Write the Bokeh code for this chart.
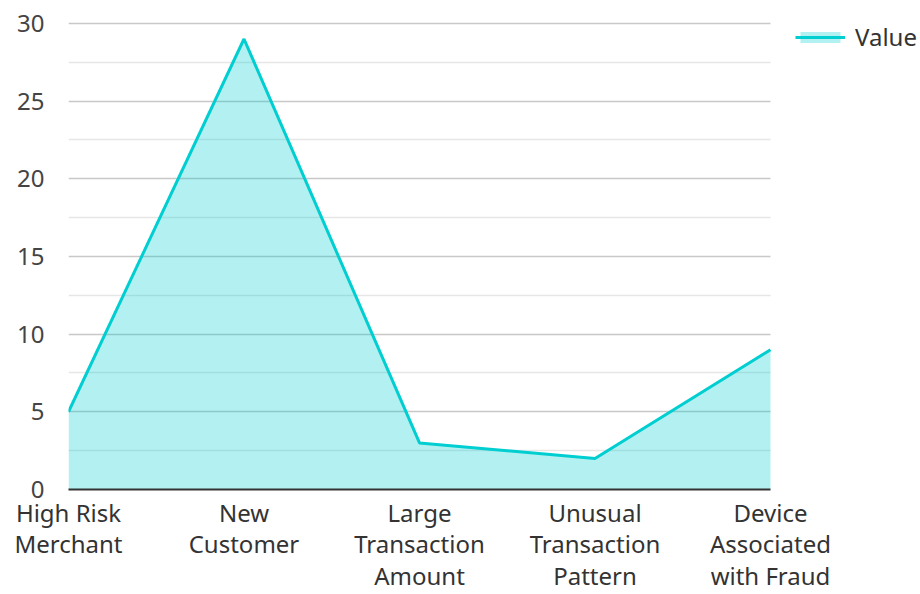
from bokeh.plotting import figure
from bokeh.models import Range1d, FixedTicker, Legend, LegendItem
from bokeh.embed import file_html
from bokeh.resources import INLINE

categories = ["High Risk\nMerchant", "New\nCustomer", "Large\nTransaction\nAmount",
              "Unusual\nTransaction\nPattern", "Device\nAssociated\nwith Fraud"]
values = [5, 29, 3, 2, 9]
y_ticks = [0, 5, 10, 15, 20, 25, 30]
y_minor = [2.5, 7.5, 12.5, 17.5, 22.5, 27.5]

xs = list(range(len(categories)))

W, H = 920, 594
left, plot_right = 68, 770
plot_top, frame_top, plot_bottom = 23, 5, 490
x_end = (len(categories) - 1) * (W - left) / (plot_right - left)
y_max = y_ticks[-1]
y_end = y_max + y_max * (plot_top - frame_top) / (plot_bottom - plot_top)

p = figure(width=W, height=H, output_backend="svg", toolbar_location=None,
           x_range=Range1d(0, x_end), y_range=Range1d(0, y_end),
           min_border_left=left, min_border_right=0, min_border_top=frame_top,
           min_border_bottom=100)
p.outline_line_color = None
p.background_fill_color = "white"

area = p.varea(x=xs, y1=[0] * len(values), y2=values, fill_color="#00CED1", fill_alpha=0.3)
line = p.line(x=xs, y=values, line_color="#00CED1", line_width=3)

p.xaxis.ticker = FixedTicker(ticks=xs)
p.xaxis.bounds = (0, len(categories) - 1)
p.xaxis.major_label_overrides = {i: c for i, c in enumerate(categories)}
p.xaxis.major_tick_line_color = None
p.xaxis.minor_tick_line_color = None
p.xaxis.axis_line_color = "#333333"
p.xaxis.axis_line_width = 2
p.xaxis.major_label_text_font = "Noto Sans"
p.xaxis.major_label_text_font_size = "24px"
p.xaxis.major_label_text_line_height = 0.96
p.xaxis.major_label_text_color = "#333333"
p.xaxis.major_label_standoff = 0

p.yaxis.ticker = FixedTicker(ticks=y_ticks, minor_ticks=y_minor)
p.yaxis.axis_line_color = None
p.yaxis.major_tick_line_color = None
p.yaxis.minor_tick_line_color = None
p.yaxis.major_label_text_font = "Noto Sans"
p.yaxis.major_label_text_font_size = "24px"
p.yaxis.major_label_text_color = "#444444"
p.yaxis.major_label_standoff = 18

p.xgrid.grid_line_color = None
p.ygrid.grid_line_color = "#c8c8c8"
p.ygrid.grid_line_width = 1.5
p.ygrid.minor_grid_line_color = "#e6e6e6"
p.ygrid.minor_grid_line_width = 1.5
p.ygrid.cross_bounds = (0, len(categories) - 1)
p.ygrid.bounds = (0, y_max)

legend = Legend(items=[LegendItem(label="Value", renderers=[area, line])],
                location=(727, 436), border_line_color=None, background_fill_alpha=0,
                padding=0, margin=0, glyph_width=50, glyph_height=14, label_height=26,
                label_text_font="Noto Sans", label_text_font_size="24px",
                label_text_color="#333333", label_standoff=10)
p.add_layout(legend)

open("out.html", "w").write(file_html(p, INLINE))
